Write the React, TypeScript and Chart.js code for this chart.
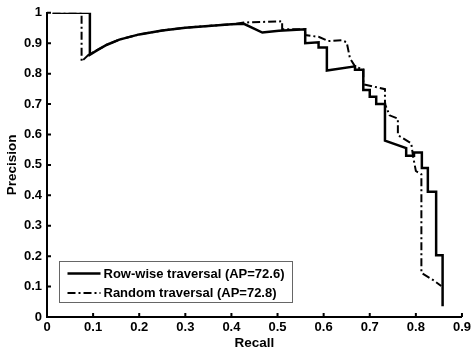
import React, { useEffect, useRef } from "react";
import { Chart, registerables } from "chart.js";

Chart.register(...registerables);

const xTickLabels = ["0", "0.1", "0.2", "0.3", "0.4", "0.5", "0.6", "0.7", "0.8", "0.9"];
const yTickLabels = ["0", "0.1", "0.2", "0.3", "0.4", "0.5", "0.6", "0.7", "0.8", "0.9", "1"];
const seriesLabels = ["Row-wise traversal (AP=72.6)", "Random traversal (AP=72.8)"];
const axisTitles = { x: "Recall", y: "Precision" };

const rowWiseRecall = [
  0.012, 0.093, 0.093, 0.11, 0.13, 0.157, 0.2, 0.25, 0.3, 0.35, 0.4, 0.427, 0.467, 0.503, 0.56, 0.56,
  0.589, 0.589, 0.607, 0.607, 0.668, 0.668, 0.686, 0.686, 0.7, 0.7, 0.714, 0.714, 0.733, 0.733, 0.779,
  0.779, 0.796, 0.796, 0.813, 0.813, 0.826, 0.826, 0.844, 0.844, 0.858, 0.858,
];
const rowWisePrecision = [
  1, 1, 0.862, 0.878, 0.895, 0.912, 0.929, 0.942, 0.951, 0.957, 0.962, 0.964, 0.935, 0.941, 0.946, 0.9,
  0.903, 0.886, 0.886, 0.81, 0.824, 0.813, 0.813, 0.746, 0.746, 0.724, 0.724, 0.7, 0.7, 0.58, 0.555,
  0.53, 0.53, 0.541, 0.541, 0.49, 0.49, 0.412, 0.412, 0.203, 0.203, 0.035,
];

const randomRecall = [
  0.012, 0.075, 0.075, 0.09, 0.11, 0.13, 0.157, 0.2, 0.25, 0.3, 0.35, 0.4, 0.427, 0.51, 0.51, 0.56, 0.56,
  0.589, 0.61, 0.639, 0.65, 0.657, 0.668, 0.686, 0.686, 0.733, 0.733, 0.743, 0.761, 0.761, 0.79, 0.794,
  0.8, 0.812, 0.812, 0.84, 0.855,
];
const randomPrecision = [
  1, 1, 0.84, 0.862, 0.878, 0.895, 0.912, 0.929, 0.942, 0.951, 0.957, 0.962, 0.968, 0.972, 0.946, 0.946,
  0.927, 0.921, 0.907, 0.91, 0.903, 0.851, 0.824, 0.813, 0.765, 0.749, 0.7, 0.663, 0.652, 0.598, 0.571,
  0.528, 0.48, 0.469, 0.145, 0.119, 0.102,
];

const FONT = "'Liberation Sans', Arial, Helvetica, sans-serif";

const insideTicks = {
  id: "insideTicks",
  afterDraw(chart: any) {
    const ctx = chart.ctx;
    const { left, bottom } = chart.chartArea;
    const xs = chart.scales.x;
    const ys = chart.scales.y;
    ctx.save();
    ctx.strokeStyle = "#000";
    ctx.lineWidth = 2;
    ctx.beginPath();
    xs.ticks.forEach((t: any) => {
      const px = xs.getPixelForValue(t.value);
      ctx.moveTo(px, bottom);
      ctx.lineTo(px, bottom - 4);
    });
    ys.ticks.forEach((t: any) => {
      const py = ys.getPixelForValue(t.value);
      ctx.moveTo(left, py);
      ctx.lineTo(left + 4, py);
    });
    ctx.stroke();
    ctx.restore();
  },
};

const boxLegend = {
  id: "boxLegend",
  afterDraw(chart: any) {
    const ctx = chart.ctx;
    const { left, bottom } = chart.chartArea;
    const bx = left + 12.5;
    const by = bottom - 55.5;
    const bw = 233;
    const bh = 41;
    ctx.save();
    ctx.fillStyle = "#fff";
    ctx.fillRect(bx, by, bw, bh);
    ctx.strokeStyle = "#666";
    ctx.lineWidth = 1;
    ctx.strokeRect(bx, by, bw, bh);
    ctx.font = `bold 13px ${FONT}`;
    ctx.textBaseline = "middle";
    ctx.textAlign = "left";
    chart.data.datasets.forEach((ds: any, i: number) => {
      const y = by + 12 + i * 19.5;
      ctx.beginPath();
      ctx.strokeStyle = ds.borderColor;
      ctx.lineWidth = ds.borderWidth;
      ctx.setLineDash(ds.borderDash || []);
      ctx.moveTo(bx + 8, y);
      ctx.lineTo(bx + 41, y);
      ctx.stroke();
      ctx.setLineDash([]);
      ctx.fillStyle = "#000";
      ctx.fillText(ds.label, bx + 44, y + 0.5);
    });
    ctx.restore();
  },
};

export default function App() {
  const ref = useRef<HTMLCanvasElement>(null);
  useEffect(() => {
    document.body.style.margin = "0";
    const canvas = ref.current!;
    const chart = new Chart(canvas, {
      type: "line",
      data: {
        datasets: [
          {
            label: seriesLabels[0],
            data: rowWiseRecall.map((x, i) => ({ x, y: rowWisePrecision[i] })),
            borderColor: "#000",
            borderWidth: 2.5,
            pointRadius: 0,
            tension: 0,
            fill: false,
            clip: 0,
          },
          {
            label: seriesLabels[1],
            data: randomRecall.map((x, i) => ({ x, y: randomPrecision[i] })),
            borderColor: "#000",
            borderWidth: 2,
            borderDash: [8, 3, 2, 3],
            pointRadius: 0,
            tension: 0,
            fill: false,
            clip: 0,
          },
        ],
      },
      options: {
        animation: false,
        responsive: false,
        devicePixelRatio: 1,
        layout: { padding: { left: 0, right: 10, top: 7, bottom: 0 } },
        plugins: { legend: { display: false }, tooltip: { enabled: false } },
        scales: {
          x: {
            type: "linear",
            min: 0,
            max: 0.9,
            afterFit: (s: any) => {
              s.height = 38;
            },
            ticks: {
              stepSize: 0.1,
              color: "#000",
              padding: 3,
              font: { family: FONT, size: 13, weight: "bold" },
              callback: (v: any) => xTickLabels[Math.round(Number(v) * 10)],
            },
            grid: { display: false, drawTicks: false },
            border: { display: true, color: "#000", width: 2 },
            title: {
              display: true,
              text: axisTitles.x,
              color: "#000",
              font: { family: FONT, size: 13.5, weight: "bold" },
              padding: { top: 0, bottom: 4 },
            },
          },
          y: {
            type: "linear",
            min: 0,
            max: 1,
            afterFit: (s: any) => {
              s.width = 47;
            },
            ticks: {
              stepSize: 0.1,
              color: "#000",
              padding: 5,
              font: { family: FONT, size: 13, weight: "bold" },
              callback: (v: any) => yTickLabels[Math.round(Number(v) * 10)],
            },
            grid: { display: false, drawTicks: false },
            border: { display: true, color: "#000", width: 2 },
            title: {
              display: true,
              text: axisTitles.y,
              color: "#000",
              font: { family: FONT, size: 13.5, weight: "bold" },
              padding: { top: 4, bottom: 0 },
            },
          },
        },
      },
      plugins: [insideTicks, boxLegend],
    });
    return () => chart.destroy();
  }, []);
  return (
    <div style={{ width: 474, height: 355 }}>
      <canvas ref={ref} width={474} height={355} />
    </div>
  );
}
